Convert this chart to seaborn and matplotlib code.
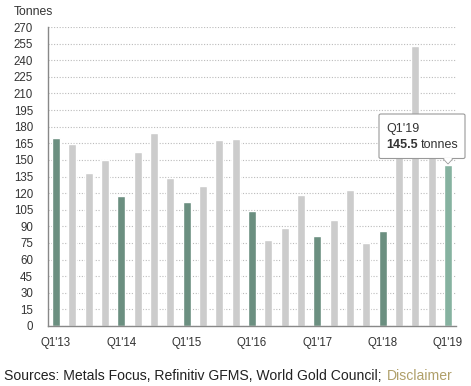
import matplotlib
matplotlib.use("Agg")
import matplotlib.pyplot as plt
import seaborn as sns
from matplotlib.patches import FancyBboxPatch, Polygon

# Central bank gold demand, quarterly (tonnes)
quarters = [f"Q{q}'{y}" for y in range(13, 19) for q in range(1, 5)] + ["Q1'19"]
tonnes = [170, 164, 138, 150,
          117, 157, 174, 134,
          112, 126.5, 168, 169,
          104, 78, 88.5, 118,
          81, 96, 123, 75,
          86, 160, 253, 165,
          145.5]
tick_labels = ["Q1'13", "Q1'14", "Q1'15", "Q1'16", "Q1'17", "Q1'18", "Q1'19"]

GREEN = "#6b8f80"
GREEN_HOVER = "#86b2a0"
GREY = "#cccccc"
colors = [GREEN if q.startswith("Q1") else GREY for q in quarters]
colors[-1] = GREEN_HOVER

sns.set_style("white")
plt.rcParams["font.family"] = ["Liberation Sans", "DejaVu Sans"]

W, H = 471, 386
fig = plt.figure(figsize=(W / 100, H / 100), dpi=100)
ax = fig.add_axes([47.5 / W, 1 - 326 / H, 408.5 / W, 299 / H])

sns.barplot(x=quarters, y=tonnes, hue=quarters, palette=colors, legend=False,
            width=0.49, saturation=1, ax=ax, zorder=2)

ax.set_xlim(-0.52, 24.49)
ax.set_ylim(0, 270)
ax.set_yticks(range(0, 271, 15))
ax.set_xticks([quarters.index(t) for t in tick_labels])
ax.set_xticklabels(tick_labels)
ax.tick_params(axis="both", labelsize=8.3, colors="#333333", length=0)
ax.tick_params(axis="x", pad=8)
ax.tick_params(axis="y", pad=10.4)
ax.yaxis.grid(True, linestyle=(0, (1, 1.5)), color="#bbbbbb", linewidth=0.8, zorder=0)
ax.set_axisbelow(True)
for s in ["top", "right"]:
    ax.spines[s].set_visible(False)
for s in ["left", "bottom"]:
    ax.spines[s].set_color("#888888")
    ax.spines[s].set_linewidth(1)
ax.set_xlabel("")
ax.set_ylabel("")

fig.text(14 / W, 1 - 12 / H, "Tonnes", fontsize=8.8, color="#333333", va="center")

# tooltip for the last bar
box = FancyBboxPatch((379 / W, 1 - 158.5 / H), 86 / W, 44.5 / H,
                     boxstyle="round,pad=0,rounding_size=0.004",
                     transform=fig.transFigure, facecolor="white",
                     edgecolor="#999999", linewidth=0.8, zorder=5)
fig.patches.append(box)
tip = Polygon([(443 / W, 1 - 158.5 / H), (453 / W, 1 - 158.5 / H),
               (448 / W, 1 - 164 / H)], closed=True,
              transform=fig.transFigure, facecolor="white",
              edgecolor="#999999", linewidth=0.6, zorder=6)
fig.patches.append(tip)
cover = Polygon([(443.8 / W, 1 - 158 / H), (452.2 / W, 1 - 158 / H),
                 (448 / W, 1 - 162.8 / H)], closed=True,
                transform=fig.transFigure, facecolor="white",
                edgecolor="none", zorder=7)
fig.patches.append(cover)
fig.text(386.5 / W, 1 - 129 / H, "Q1'19", fontsize=9, color="#333333", va="center", zorder=8)
t1 = fig.text(386.5 / W, 1 - 145 / H, f"{tonnes[-1]}", fontsize=9, color="#333333",
              fontweight="bold", va="center", zorder=8)

renderer = fig.canvas.get_renderer()
bb = t1.get_window_extent(renderer)
fig.text(bb.x1 / W + 3 / W, 1 - 145 / H, "tonnes", fontsize=9, color="#333333",
         va="center", zorder=8)

# source line
src = fig.text(4 / W, 1 - 376 / H, "Sources: Metals Focus, Refinitiv GFMS, World Gold Council;",
               fontsize=10.1, color="#222222", va="center")
bb = src.get_window_extent(renderer)
fig.text(bb.x1 / W + 5 / W, 1 - 376 / H, "Disclaimer", fontsize=10.1, color="#b0a06a",
         va="center")

fig.savefig("out.png", dpi=100)
